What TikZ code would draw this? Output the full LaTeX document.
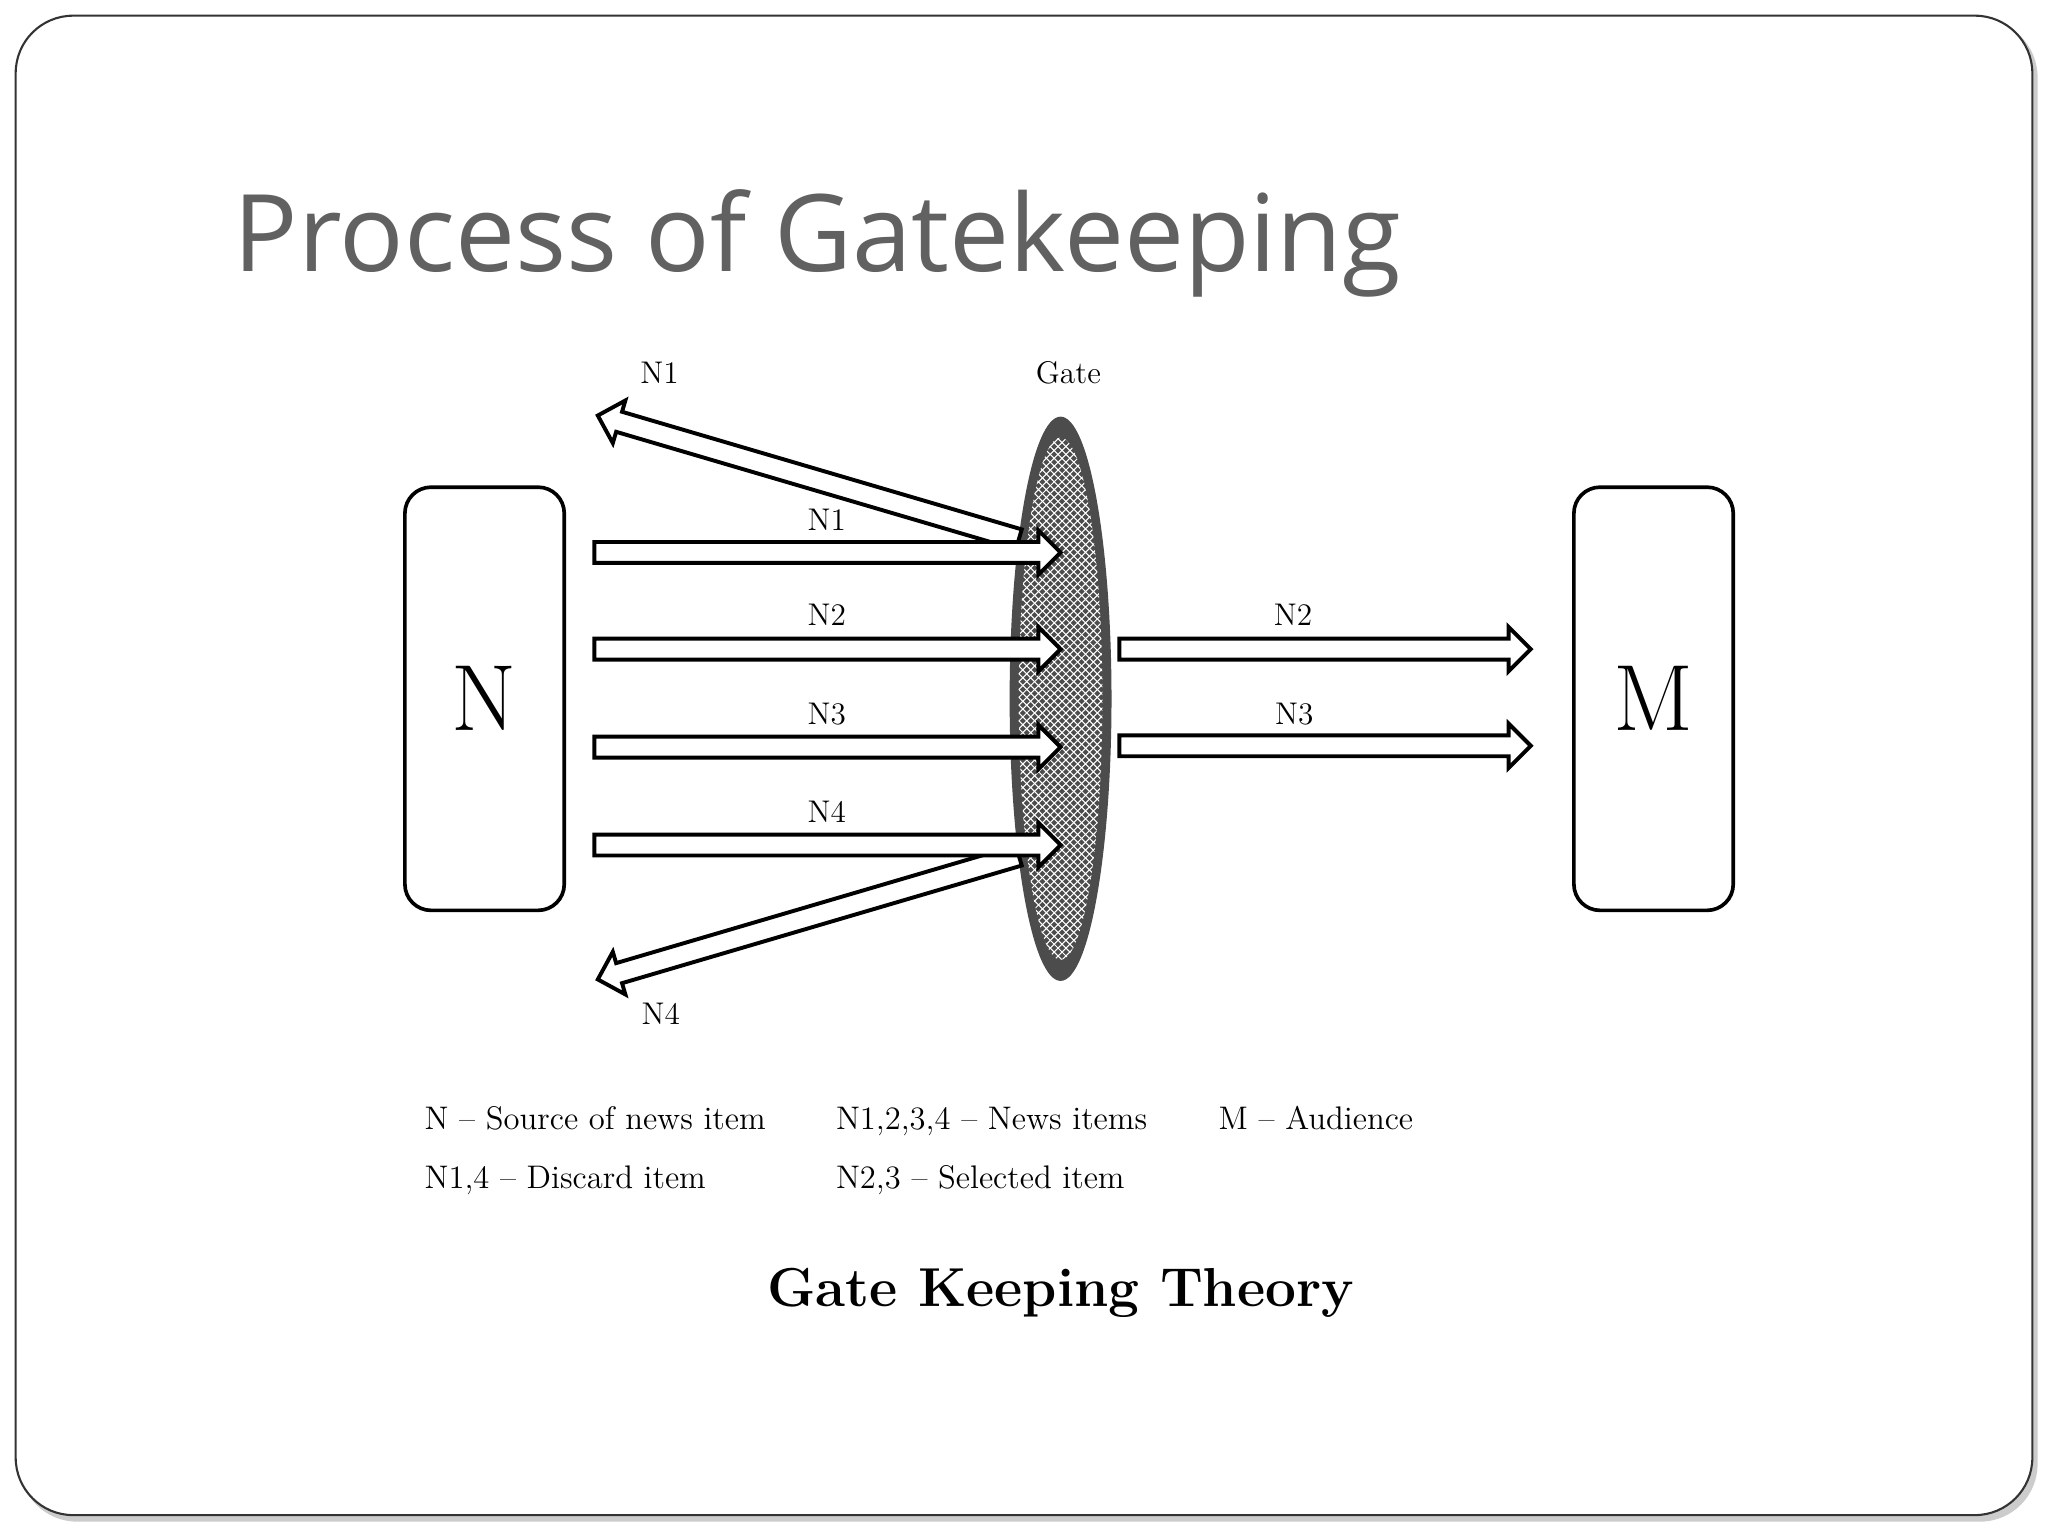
\documentclass[tikz,border=0pt]{standalone}
\usepackage{fontspec}
\newfontfamily\titlefont{Open Sans}
\usetikzlibrary{patterns}
\newcommand\os[1]{\oldstylenums{#1}}
\newcommand\hollowarrow[3]{%
\begin{scope}[shift={#1},rotate=#2]
\draw[arr] (0,-8)--(#3-17,-8)--(#3-17,-17)--(#3,0)--(#3-17,17)--(#3-17,8)--(0,8)--cycle;
\end{scope}}
\begin{document}
\begin{tikzpicture}[x=0.5pt,y=-0.5pt,
  arr/.style={draw=black,line width=1.5pt,fill=white,line join=miter},
  box/.style={draw=black,line width=1.4pt,rounded corners=10pt},
  lab/.style={font=\fontsize{12}{14}\selectfont,anchor=base},
  leg/.style={font=\fontsize{12.5}{14}\selectfont,anchor=base west}]
\useasboundingbox (0,0) rectangle (1568,1176);
\fill[white] (0,0) rectangle (1568,1176);
\fill[gray!40,rounded corners=22pt] (15,15) rectangle (1560,1165);
\draw[fill=white,draw=black!80,line width=0.8pt,rounded corners=22pt] (12,12) rectangle (1556,1160);
\node[font=\titlefont\fontsize{41}{48}\selectfont,text=black!62,anchor=base west] (title) at (172,208) {Process of Gatekeeping};
% boxes
\node[box,minimum width=61pt,minimum height=162pt] (N) at (371,535) {\fontsize{36}{40}\selectfont N};
\node[box,minimum width=61pt,minimum height=162pt] (M) at (1266,535) {\fontsize{36}{40}\selectfont M};
% gate
\fill[black!70] (812,535) ellipse [x radius=39, y radius=216];
\fill[pattern=crosshatch,pattern color=white] (812,535) ellipse [x radius=32, y radius=200];
\node[lab] (gate) at (818,294) {Gate};
% diagonals
\hollowarrow{(780,413)}{163.6}{336}
\hollowarrow{(780,655)}{196.4}{336}
% horizontal
\hollowarrow{(455,423)}{0}{357}
\hollowarrow{(455,497)}{0}{357}
\hollowarrow{(455,572)}{0}{357}
\hollowarrow{(455,647)}{0}{357}
\hollowarrow{(857,497)}{0}{315}
\hollowarrow{(857,571)}{0}{315}
% labels
\node[lab] (l1) at (505,294) {N\os1};
\node[lab] (l2) at (633,406) {N\os1};
\node[lab] (l3) at (633,479) {N\os2};
\node[lab] (l4) at (633,555) {N\os3};
\node[lab] (l5) at (633,630) {N\os4};
\node[lab] (l6) at (506,784) {N\os4};
\node[lab] (l7) at (990,479) {N\os2};
\node[lab] (l8) at (991,555) {N\os3};
% legend
\node[leg] (g1) at (318,865) {N -- Source of news item};
\node[leg] (g2) at (633,865) {N\os{1,2,3,4} -- News items};
\node[leg] (g3) at (926,865) {M -- Audience};
\node[leg] (g4) at (318,910) {N\os{1,4} -- Discard item};
\node[leg] (g5) at (633,910) {N\os{2,3} -- Selected item};
\node[font=\bfseries\fontsize{21}{24}\selectfont,anchor=base] (t2) at (812,1000) {Gate Keeping Theory};
\end{tikzpicture}
\end{document}
